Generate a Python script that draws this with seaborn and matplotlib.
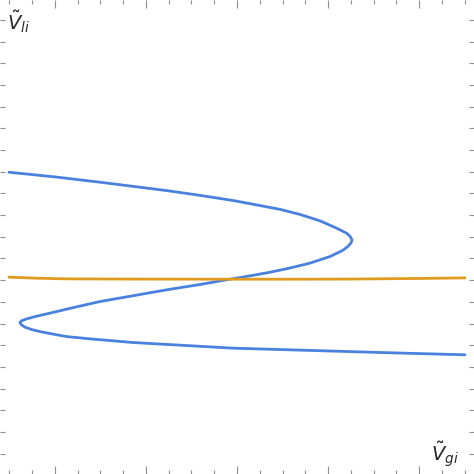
import numpy as np
import pandas as pd
import matplotlib
matplotlib.use("Agg")
import matplotlib.pyplot as plt
from matplotlib.ticker import MultipleLocator
import seaborn as sns

# S-shaped branch (blue) in order along the curve
s_vg = [-0.505, 0.000, 0.495, 1.227, 1.593, 1.960, 2.473, 2.692, 2.912, 3.096, 3.205,
        3.242, 3.264, 3.253, 3.220, 3.165, 3.022, 2.802, 2.582, 2.363, 2.143, 1.923,
        1.593, 1.227, 0.495, 0.165, -0.055, -0.220, -0.311, -0.368, -0.385, -0.368,
        -0.330, -0.253, -0.165, -0.055, 0.129, 0.385, 0.860, 1.960, 3.059, 3.791, 4.505]
s_vl = [0.995, 0.952, 0.903, 0.826, 0.782, 0.734, 0.653, 0.606, 0.547, 0.479, 0.433,
        0.404, 0.371, 0.344, 0.312, 0.276, 0.218, 0.157, 0.112, 0.073, 0.040, 0.009,
        -0.040, -0.089, -0.197, -0.260, -0.304, -0.336, -0.357, -0.375, -0.391, -0.412,
        -0.433, -0.456, -0.474, -0.492, -0.520, -0.541, -0.575, -0.627, -0.654, -0.672, -0.688]

# nearly flat branch (orange)
h_vg = [-0.505, -0.2, 0.132, 0.8, 1.923, 2.6, 3.24, 3.9, 4.505]
h_vl = [0.028, 0.018, 0.012, 0.010, 0.009, 0.009, 0.010, 0.015, 0.021]

blue = "#4A80DE"
orange = "#E09A1E"

sns.set_style("white")
plt.rcParams["mathtext.fontset"] = "dejavusans"

fig = plt.figure(figsize=(4.74, 4.74), dpi=100)
ax = fig.add_axes([0, 0, 1, 1])

df_s = pd.DataFrame({"vg": s_vg, "vl": s_vl})
df_h = pd.DataFrame({"vg": h_vg, "vl": h_vl})
sns.lineplot(data=df_s, x="vg", y="vl", sort=False, estimator=None, color=blue, lw=2.0, ax=ax)
sns.lineplot(data=df_h, x="vg", y="vl", sort=False, estimator=None, color=orange, lw=2.0, ax=ax)

ax.set_xlim(-0.604, 4.604)
ax.set_ylim(-1.787, 2.583)
ax.xaxis.set_major_locator(MultipleLocator(1))
ax.xaxis.set_minor_locator(MultipleLocator(0.25))
ax.yaxis.set_major_locator(MultipleLocator(0.2))
ax.tick_params(axis="both", which="both", direction="in", color="#8f8f8f", width=0.8,
               top=True, bottom=True, left=True, right=True,
               labelbottom=False, labelleft=False)
ax.tick_params(axis="x", which="major", length=6)
ax.tick_params(axis="x", which="minor", length=3)
ax.tick_params(axis="y", which="major", length=3.5)
for sp in ax.spines.values():
    sp.set_visible(False)
ax.set_xlabel("")
ax.set_ylabel("")

fig.text(7 / 474, 1 - 30 / 474, r"$\tilde{V}_{li}$", fontsize=14, va="baseline", ha="left")
fig.text(431 / 474, 1 - 461 / 474, r"$\tilde{V}_{gi}$", fontsize=14, va="baseline", ha="left")

fig.savefig("out.png", dpi=100)
